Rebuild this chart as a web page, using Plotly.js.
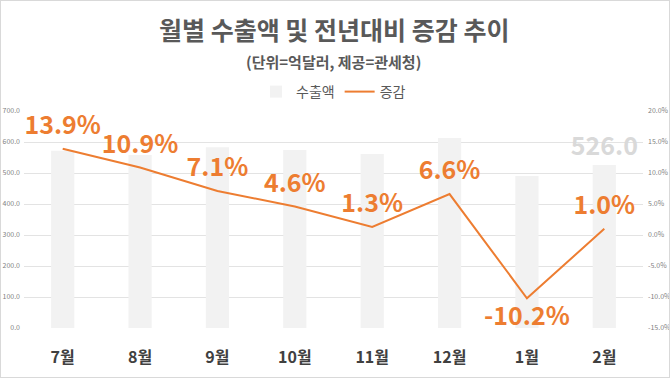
<!DOCTYPE html>
<html>
<head>
<meta charset="utf-8">
<script src="https://cdn.plot.ly/plotly-3.0.1.min.js"></script>
<style>
html,body{margin:0;padding:0;background:#fff;}
#chart{width:670px;height:378px;box-sizing:border-box;border:1px solid #d9d9d9;}
</style>
</head>
<body>
<div id="chart"></div>
<script>
const months = ['7월','8월','9월','10월','11월','12월','1월','2월'];
const exportsValue = [572, 558, 583, 574, 561, 613, 490, 526.0];
const changeRate = [13.9, 10.9, 7.1, 4.6, 1.3, 6.6, -10.2, 1.0];
const leftTicks = [0,100,200,300,400,500,600,700];
const rightTicks = [-15,-10,-5,0,5,10,15,20];

const FONT = '"Noto Sans CJK KR", "Noto Sans", sans-serif';
const ORANGE = '#ED7D31';

const barTrace = {
  type: 'bar', name: '수출액', x: months, y: exportsValue,
  marker: {color: '#f2f2f2'}, width: 0.3,
  text: exportsValue.map((v, i) => i === exportsValue.length - 1 ? v.toFixed(1) : ''),
  textposition: 'outside', cliponaxis: false, constraintext: 'none',
  textfont: {family: FONT, size: 25, color: '#d9d9d9', weight: 'bold'},
  hoverinfo: 'skip'
};
const lineTrace = {
  type: 'scatter', mode: 'lines+markers+text', name: '증감', x: months, y: changeRate,
  yaxis: 'y2', line: {color: ORANGE, width: 2},
  marker: {size: 12, color: 'rgba(0,0,0,0)'},
  text: changeRate.map(v => v.toFixed(1) + '%'),
  textposition: changeRate.map(v => v < 0 ? 'bottom center' : 'top center'),
  textfont: {family: FONT, size: 25, color: ORANGE, weight: 'bold'},
  cliponaxis: false
};

const layout = {
  width: 668, height: 376,
  margin: {l: 23, r: 26, t: 110, b: 49},
  paper_bgcolor: '#fff', plot_bgcolor: '#fff',
  font: {family: FONT, color: '#595959'},
  showlegend: true,
  legend: {orientation: 'h', x: 0.5, xanchor: 'center', y: 1.0 + (110 - 91) / 217, yanchor: 'middle',
           font: {size: 14, color: '#595959', family: FONT}, traceorder: 'normal'},
  xaxis: {type: 'category', showgrid: false, zeroline: false, showline: false,
          ticks: '', ticklabelstandoff: 18,
          tickfont: {size: 16, color: '#404040', family: FONT, weight: 'bold'}},
  yaxis: {range: [0, 700], tickvals: leftTicks, ticktext: leftTicks.map(v => v.toFixed(1)),
          showgrid: true, gridcolor: '#e3e3e3', gridwidth: 1, zeroline: false, showline: false,
          color: '#7f7f7f', tickfont: {size: 7, color: '#7f7f7f'}, ticklabelstandoff: 3},
  yaxis2: {overlaying: 'y', side: 'right', range: [-15, 20], tickvals: rightTicks,
           ticktext: rightTicks.map(v => v.toFixed(1) + '%'),
           showgrid: false, zeroline: false, showline: false,
           color: '#7f7f7f', tickfont: {size: 7, color: '#7f7f7f'}, ticklabelstandoff: 4},
  annotations: [
    {text: '<b>월별 수출액 및 전년대비 증감 추이</b>', xref: 'paper', yref: 'paper',
     x: 0.5, xanchor: 'center', y: 1.0 + (110 - 28) / 217, yanchor: 'middle', showarrow: false,
     font: {size: 25, color: '#595959', family: FONT}},
    {text: '<b>(단위=억달러, 제공=관세청)</b>', xref: 'paper', yref: 'paper',
     x: 0.5, xanchor: 'center', y: 1.0 + (110 - 61) / 217, yanchor: 'middle', showarrow: false,
     font: {size: 15, color: '#595959', family: FONT}}
  ]
};

Plotly.newPlot('chart', [barTrace, lineTrace], layout, {displayModeBar: false, staticPlot: true});
</script>
</body>
</html>
